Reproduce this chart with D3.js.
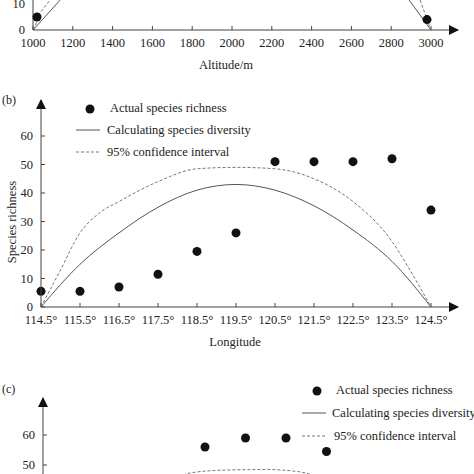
<!DOCTYPE html><html><head><meta charset="utf-8">
<script src="https://cdn.jsdelivr.net/npm/d3@7"></script>
<style>body{margin:0;background:#fff}text{font-family:"Liberation Serif",serif;fill:#222}</style></head>
<body><svg id="c" width="474" height="474"></svg>
<script>
// Panel (a)
const aTicks=[1000,1200,1400,1600,1800,2000,2200,2400,2600,2800,3000];
const aPts=[[1020,5],[2980,4]];
const aSolid1=[[1000,0],[1136,11.5]], aSolid2=[[2890,11.5],[3000,0]];
const aDash1=[[1005,0],[1030,6],[1085,11.5]], aDash2=[[2945,11.5],[3000,0]];
// Panel (b)
const bLon=[114.5,115.5,116.5,117.5,118.5,119.5,120.5,121.5,122.5,123.5,124.5];
const bActual=[5.5,5.5,7,11.5,19.5,26,51,51,51,52,34];
const bCalc=[0,15,26,35,41,43,41,35.5,27,16,0];
const bConf=[[114.5,0],[115,13],[115.5,26],[116,33],[116.5,37],[117.5,44],[118.5,48.5],[119.5,49],[120.5,48.5],[121.5,45],[122.5,37],[123.5,23],[124,12],[124.5,0]];
const yTicks=[0,10,20,30,40,50,60];
// Panel (c)
const cIdx=[4,5,6,7];
const cActual=[56,59,59,54.5];
const cConf=[[3,44],[3.7,47.5],[4.5,48.3],[5.5,48.5],[6.3,47.8],[7,45],[7.5,42]];
const legend=["Actual species richness","Calculating species diversity","95% confidence interval"];

const FS=12.5;
const svg=d3.select("#c");
svg.append("defs").append("marker").attr("id","ar").attr("viewBox","0 0 10 10").attr("refX",9).attr("refY",5)
 .attr("markerWidth",10).attr("markerHeight",10).attr("markerUnits","userSpaceOnUse").attr("orient","auto")
 .append("path").attr("d","M0,0L10,5L0,10z").attr("fill","#111");
const line=d3.line().x(d=>d[0]).y(d=>d[1]);
function axes(x0,y0,x1,y1){
 svg.append("line").attr("x1",x0).attr("y1",y0).attr("x2",x1).attr("y2",y0).attr("stroke","#444").attr("marker-end","url(#ar)");
 if(y1!=null) svg.append("line").attr("x1",x0).attr("y1",y0).attr("x2",x0).attr("y2",y1).attr("stroke","#444").attr("marker-end","url(#ar)");
}
// ---- (a)
{
 const x=d3.scaleLinear().domain([1000,3000]).range([33,431]);
 const y=d3.scaleLinear().domain([0,10]).range([30,4]);
 const g=svg.append("g");
 g.append("line").attr("x1",33).attr("x2",33).attr("y1",30).attr("y2",-5).attr("stroke","#444");
 axes(33,30,458,null);
 aTicks.forEach(t=>{g.append("line").attr("x1",x(t)).attr("x2",x(t)).attr("y1",30).attr("y2",26).attr("stroke","#444");
  g.append("text").attr("x",x(t)).attr("y",47).attr("text-anchor","middle").attr("font-size",FS).text(t);});
 [0,10].forEach(t=>g.append("text").attr("x",25).attr("y",y(t)+4).attr("text-anchor","end").attr("font-size",FS).text(t));
 [aSolid1,aSolid2].forEach(s=>g.append("path").attr("d",line(s.map(d=>[x(d[0]),y(d[1])]))).attr("stroke","#555").attr("fill","none"));
 [aDash1,aDash2].forEach(s=>g.append("path").attr("d",line(s.map(d=>[x(d[0]),y(d[1])]))).attr("stroke","#777").attr("stroke-dasharray","3,2").attr("fill","none"));
 aPts.forEach(p=>g.append("circle").attr("cx",x(p[0])).attr("cy",y(p[1])).attr("r",4.5).attr("fill","#111"));
 g.append("text").attr("x",226).attr("y",69).attr("text-anchor","middle").attr("font-size",FS).text("Altitude/m");
}
// ---- (b)
{
 const x=d3.scaleLinear().domain([114.5,124.5]).range([41,431]);
 const y=d3.scaleLinear().domain([0,60]).range([307,136]);
 const g=svg.append("g");
 svg.append("text").attr("x",2).attr("y",104).attr("font-family","Liberation Sans").attr("font-size",12).text("(b)");
 axes(41,307,458,100);
 bLon.forEach(t=>{g.append("line").attr("x1",x(t)).attr("x2",x(t)).attr("y1",307).attr("y2",303).attr("stroke","#444");
  g.append("text").attr("x",x(t)).attr("y",324).attr("text-anchor","middle").attr("font-size",FS).text(t+"°");});
 yTicks.forEach(t=>{g.append("line").attr("x1",41).attr("x2",45).attr("y1",y(t)).attr("y2",y(t)).attr("stroke","#444");
  g.append("text").attr("x",33).attr("y",y(t)+4).attr("text-anchor","end").attr("font-size",FS).text(t);});
 const cl=d3.line().curve(d3.curveMonotoneX).x(d=>x(d[0])).y(d=>y(d[1]));
 g.append("path").attr("d",cl(bLon.map((l,i)=>[l,bCalc[i]]))).attr("stroke","#555").attr("fill","none");
 g.append("path").attr("d",cl(bConf)).attr("stroke","#777").attr("stroke-dasharray","3,2").attr("fill","none");
 bLon.forEach((l,i)=>g.append("circle").attr("cx",x(l)).attr("cy",y(bActual[i])).attr("r",4.5).attr("fill","#111"));
 g.append("text").attr("x",235).attr("y",346).attr("text-anchor","middle").attr("font-size",FS).text("Longitude");
 g.append("text").attr("transform","translate(16,222) rotate(-90)").attr("text-anchor","middle").attr("font-size",FS).text("Species richness");
 g.append("circle").attr("cx",90).attr("cy",109).attr("r",4.5).attr("fill","#111");
 g.append("text").attr("x",110).attr("y",112).attr("font-size",FS).text(legend[0]);
 g.append("line").attr("x1",76).attr("x2",100).attr("y1",130).attr("y2",130).attr("stroke","#555");
 g.append("text").attr("x",107).attr("y",134).attr("font-size",FS).text(legend[1]);
 g.append("line").attr("x1",76).attr("x2",100).attr("y1",152).attr("y2",152).attr("stroke","#777").attr("stroke-dasharray","3,2");
 g.append("text").attr("x",107).attr("y",156).attr("font-size",FS).text(legend[2]);
}
// ---- (c)
{
 const x=d3.scaleLinear().domain([0,10]).range([43,448]);
 const y=d3.scaleLinear().domain([50,60]).range([465,435]);
 const g=svg.append("g");
 svg.append("text").attr("x",2).attr("y",393).attr("font-family","Liberation Sans").attr("font-size",12).text("(c)");
 g.append("line").attr("x1",43).attr("x2",43).attr("y1",480).attr("y2",398).attr("stroke","#444").attr("marker-end","url(#ar)");
 [50,60].forEach(t=>{g.append("line").attr("x1",43).attr("x2",47).attr("y1",y(t)).attr("y2",y(t)).attr("stroke","#444");
  g.append("text").attr("x",35).attr("y",y(t)+4).attr("text-anchor","end").attr("font-size",FS).text(t);});
 const cl=d3.line().curve(d3.curveMonotoneX).x(d=>x(d[0])).y(d=>y(d[1]));
 g.append("path").attr("d",cl(cConf)).attr("stroke","#777").attr("stroke-dasharray","3,2").attr("fill","none");
 cIdx.forEach((v,i)=>g.append("circle").attr("cx",x(v)).attr("cy",y(cActual[i])).attr("r",4.5).attr("fill","#111"));
 g.append("circle").attr("cx",317).attr("cy",391).attr("r",4.5).attr("fill","#111");
 g.append("text").attr("x",336).attr("y",394).attr("font-size",FS).text(legend[0]);
 g.append("line").attr("x1",302).attr("x2",326).attr("y1",413).attr("y2",413).attr("stroke","#555");
 g.append("text").attr("x",332).attr("y",417).attr("font-size",FS).text(legend[1]);
 g.append("line").attr("x1",302).attr("x2",326).attr("y1",436).attr("y2",436).attr("stroke","#777").attr("stroke-dasharray","3,2");
 g.append("text").attr("x",334).attr("y",440).attr("font-size",FS).text(legend[2]);
}
</script></body></html>
